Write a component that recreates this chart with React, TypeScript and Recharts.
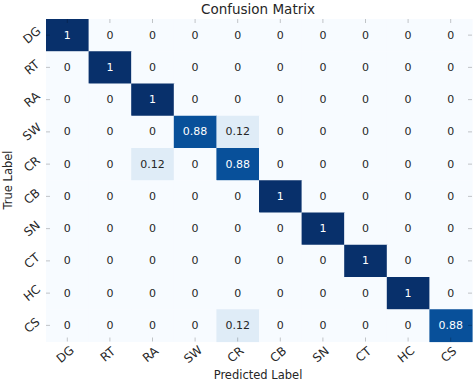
import { ScatterChart, Scatter, XAxis, YAxis } from "recharts";

const labels = ["DG", "RT", "RA", "SW", "CR", "CB", "SN", "CT", "HC", "CS"];

// rows = true label, columns = predicted label
const rowDG = [1, 0, 0, 0, 0, 0, 0, 0, 0, 0];
const rowRT = [0, 1, 0, 0, 0, 0, 0, 0, 0, 0];
const rowRA = [0, 0, 1, 0, 0, 0, 0, 0, 0, 0];
const rowSW = [0, 0, 0, 0.88, 0.12, 0, 0, 0, 0, 0];
const rowCR = [0, 0, 0.12, 0, 0.88, 0, 0, 0, 0, 0];
const rowCB = [0, 0, 0, 0, 0, 1, 0, 0, 0, 0];
const rowSN = [0, 0, 0, 0, 0, 0, 1, 0, 0, 0];
const rowCT = [0, 0, 0, 0, 0, 0, 0, 1, 0, 0];
const rowHC = [0, 0, 0, 0, 0, 0, 0, 0, 1, 0];
const rowCS = [0, 0, 0, 0, 0.12, 0, 0, 0, 0, 0.88];

const rows = [rowDG, rowRT, rowRA, rowSW, rowCR, rowCB, rowSN, rowCT, rowHC, rowCS];

const cells = rows.flatMap((row, r) =>
  row.map((value, c) => ({ x: c, y: r, value }))
);

const W = 474;
const H = 383;
const MARGIN = { top: 19, right: 2, bottom: 0, left: 0 };
const Y_AXIS_W = 46;
const X_AXIS_H = 41.5;
const plotW = W - MARGIN.left - MARGIN.right - Y_AXIS_W;
const plotH = H - MARGIN.top - MARGIN.bottom - X_AXIS_H;
const cellW = plotW / labels.length;
const cellH = plotH / labels.length;

const FONT = "DejaVu Sans, sans-serif";
const TEXT = "#262626";
const TICK = "rgba(0,0,0,0.22)";

// matplotlib "Blues"
const blues = [
  "#f7fbff", "#deebf7", "#c6dbef", "#9ecae1", "#6baed6",
  "#4292c6", "#2171b5", "#08519c", "#08306b",
];

function hexToRgb(h: string) {
  const n = parseInt(h.slice(1), 16);
  return [(n >> 16) & 255, (n >> 8) & 255, n & 255];
}

function bluesColor(v: number) {
  const t = Math.max(0, Math.min(1, v)) * (blues.length - 1);
  const i = Math.min(Math.floor(t), blues.length - 2);
  const f = t - i;
  const a = hexToRgb(blues[i]);
  const b = hexToRgb(blues[i + 1]);
  const m = a.map((ch, k) => Math.round(ch + (b[k] - ch) * f));
  return `rgb(${m[0]},${m[1]},${m[2]})`;
}

const n = labels.length;

const Cell = (props: any) => {
  const { cx, cy, payload } = props;
  if (cx == null || cy == null) return null;
  const { value, x: col, y: row } = payload;
  const left = cx - cellW / 2;
  const top = cy - cellH / 2;
  return (
    <g>
      <rect
        x={left}
        y={top}
        width={cellW + 0.6}
        height={cellH + 0.6}
        fill={bluesColor(value)}
      />
      <text
        x={cx}
        y={cy}
        textAnchor="middle"
        dominantBaseline="central"
        fontFamily={FONT}
        fontSize={11}
        fill={value > 0.5 ? "#ffffff" : TEXT}
      >
        {value}
      </text>
      {col === 0 && (
        <line x1={left} x2={left + 4} y1={cy} y2={cy} stroke={TICK} />
      )}
      {col === n - 1 && (
        <line x1={left + cellW - 4} x2={left + cellW} y1={cy} y2={cy} stroke={TICK} />
      )}
      {row === 0 && (
        <line x1={cx} x2={cx} y1={top} y2={top + 4} stroke={TICK} />
      )}
      {row === n - 1 && (
        <line x1={cx} x2={cx} y1={top + cellH - 4} y2={top + cellH} stroke={TICK} />
      )}
    </g>
  );
};

const XTick = (props: any) => {
  const { x, y, payload } = props;
  const tx = x - 2;
  const ty = y + 13;
  return (
    <text
      x={tx}
      y={ty}
      textAnchor="middle"
      dominantBaseline="central"
      transform={`rotate(-40 ${tx} ${ty})`}
      fontFamily={FONT}
      fontSize={12}
      fill={TEXT}
    >
      {labels[payload.value]}
    </text>
  );
};

const YTick = (props: any) => {
  const { x, y, payload } = props;
  const tx = x - 14;
  const ty = y;
  return (
    <text
      x={tx}
      y={ty}
      textAnchor="middle"
      dominantBaseline="central"
      transform={`rotate(-40 ${tx} ${ty})`}
      fontFamily={FONT}
      fontSize={12}
      fill={TEXT}
    >
      {labels[payload.value]}
    </text>
  );
};

const ticks = labels.map((_, i) => i);

export default function App() {
  return (
    <div
      style={{
        position: "absolute",
        left: 0,
        top: 0,
        width: W,
        height: H,
        background: "#ffffff",
        fontFamily: FONT,
        color: TEXT,
      }}
    >
      <ScatterChart width={W} height={H} margin={MARGIN}>
        <XAxis
          type="number"
          dataKey="x"
          domain={[-0.5, n - 0.5]}
          ticks={ticks}
          interval={0}
          axisLine={false}
          tickLine={false}
          tickSize={0}
          tickMargin={0}
          height={X_AXIS_H}
          tick={<XTick />}
        />
        <YAxis
          type="number"
          dataKey="y"
          domain={[-0.5, n - 0.5]}
          ticks={ticks}
          interval={0}
          reversed
          axisLine={false}
          tickLine={false}
          tickSize={0}
          tickMargin={0}
          width={Y_AXIS_W}
          tick={<YTick />}
        />
        <Scatter data={cells} shape={<Cell />} isAnimationActive={false} />
      </ScatterChart>
      <div
        style={{
          position: "absolute",
          left: 0,
          width: 516,
          top: 0,
          textAlign: "center",
          fontSize: 13.5,
          lineHeight: "18px",
        }}
      >
        Confusion Matrix
      </div>
      <div
        style={{
          position: "absolute",
          left: 0,
          width: 516,
          top: 367,
          textAlign: "center",
          fontSize: 11.5,
          lineHeight: "16px",
        }}
      >
        Predicted Label
      </div>
      <div
        style={{
          position: "absolute",
          left: 8,
          top: 180,
          transform: "translate(-50%, -50%) rotate(-90deg)",
          fontSize: 11.5,
          lineHeight: "14px",
          whiteSpace: "nowrap",
        }}
      >
        True Label
      </div>
    </div>
  );
}
